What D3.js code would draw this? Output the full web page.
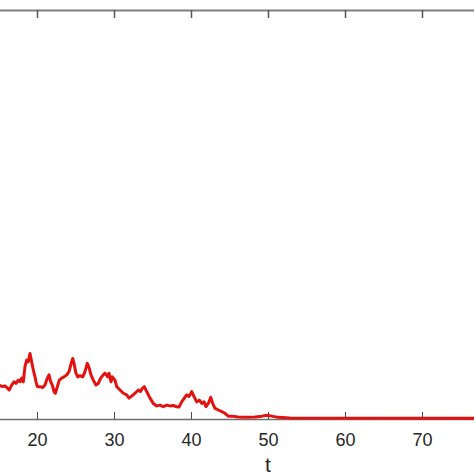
<!DOCTYPE html>
<html>
<head>
<meta charset="utf-8">
<script src="https://cdn.jsdelivr.net/npm/d3@7"></script>
<style>
  html, body { margin: 0; padding: 0; background: #fff; }
  svg { display: block; }
</style>
</head>
<body>
<svg id="chart" width="474" height="474"></svg>
<script>
// ---- data ----
const xTicks = [20, 30, 40, 50, 60, 70];
const xLabel = "t";
const tValues = [
  15.00, 15.55, 15.84, 16.14, 16.40, 16.71, 17.01, 17.27, 17.57, 17.79,
  18.01, 18.22, 18.44, 18.66, 18.87, 19.09, 19.22, 19.39, 19.52, 19.74,
  19.87, 20.04, 20.39, 20.74, 21.04, 21.34, 21.56, 21.78, 21.99, 22.21,
  22.38, 22.64, 22.90, 23.21, 23.51, 23.86, 24.16, 24.38, 24.64, 24.81,
  25.06, 25.29, 25.58, 25.94, 26.23, 26.53, 26.79, 27.01, 27.31, 27.66,
  27.96, 28.27, 28.61,
  28.83, 29.18, 29.35, 29.61, 29.78, 30.13, 30.35, 30.78, 31.21, 31.65,
  31.95, 32.30, 32.73, 33.16, 33.42, 33.68, 33.94, 34.25, 34.68, 35.10,
  35.55, 35.97, 36.40, 36.84, 37.27, 37.70, 38.14, 38.44, 38.79, 39.13,
  39.44, 39.74, 40.09, 40.39, 40.74, 41.08, 41.39, 41.69, 41.95, 42.25,
  42.56, 42.82, 43.12, 43.55, 43.99, 44.42, 44.84,
  45.32, 46.10, 47.01, 48.31, 49.22, 49.87, 50.52, 51.30, 52.86, 77.00
];
const yValues = [
  8.3, 7.9, 8.1, 7.6, 7.1, 8.3, 9.1, 8.7, 9.5, 9.1,
  10.0, 9.1, 12.8, 14.4, 14.0, 16.0, 14.8, 13.2, 12.0, 10.3,
  9.1, 7.9, 7.9, 7.7, 8.3, 10.0, 10.8, 9.1, 8.3, 6.7,
  6.3, 7.9, 9.5, 10.0, 10.3, 10.8, 11.6, 13.2, 14.8, 13.6,
  11.2, 10.3, 10.6, 10.3, 11.6, 13.6, 12.4, 10.8, 9.5, 8.3,
  8.7, 10.0, 10.8,
  11.2, 10.3, 11.2, 9.1, 10.3, 9.5, 7.9, 7.1, 6.3, 5.9,
  5.1, 5.6, 6.3, 7.1, 6.7, 7.5, 7.9, 6.7, 5.1, 3.8,
  3.2, 3.4, 3.0, 3.4, 3.2, 3.3, 3.0, 2.9, 4.2, 5.1,
  5.9, 5.5, 6.7, 5.5, 4.2, 4.6, 3.8, 4.2, 3.0, 3.8,
  5.3, 3.8, 2.6, 2.2, 1.8, 1.4, 0.7,
  0.7, 0.5, 0.45, 0.5, 0.7, 0.9, 0.7, 0.4, 0.25, 0.2
];

// ---- layout ----
const svg = d3.select("#chart");
const x = d3.scaleLinear().domain([10, 80]).range([-40, 499]);
const y = d3.scaleLinear().domain([0, 100]).range([419, 10]);

const font = "'Liberation Sans', Arial, Helvetica, sans-serif";

// bottom axis
const gB = svg.append("g").attr("transform", `translate(0,${y(0)})`)
  .call(d3.axisBottom(x).tickValues(xTicks).tickSizeInner(-7).tickSizeOuter(0).tickPadding(14));
gB.select(".domain").attr("stroke", "#6e6e6e").attr("stroke-width", 1.3);
gB.selectAll(".tick line").attr("stroke", "#4a4a4a").attr("stroke-width", 1);
gB.selectAll(".tick text").attr("font-family", font).attr("font-size", 18).attr("fill", "#262626");

// top axis
const gT = svg.append("g").attr("transform", `translate(0,${y(100)})`)
  .call(d3.axisTop(x).tickValues(xTicks).tickSizeInner(-8).tickSizeOuter(0).tickFormat(""));
gT.select(".domain").attr("stroke", "#7f7f7f").attr("stroke-width", 2);
gT.selectAll(".tick line").attr("stroke", "#555").attr("stroke-width", 1.5);

// x label
svg.append("text")
  .attr("x", x(50)).attr("y", 471.5)
  .attr("text-anchor", "middle")
  .attr("font-family", font).attr("font-size", 21).attr("fill", "#262626")
  .text(xLabel);

// line
const pts = tValues.map((t, i) => [t, yValues[i]]);
svg.append("path")
  .datum(pts)
  .attr("fill", "none")
  .attr("stroke", "#e3120f")
  .attr("stroke-width", 3)
  .attr("stroke-linejoin", "round")
  .attr("d", d3.line().x(d => x(d[0])).y(d => y(d[1])));
</script>
</body>
</html>
